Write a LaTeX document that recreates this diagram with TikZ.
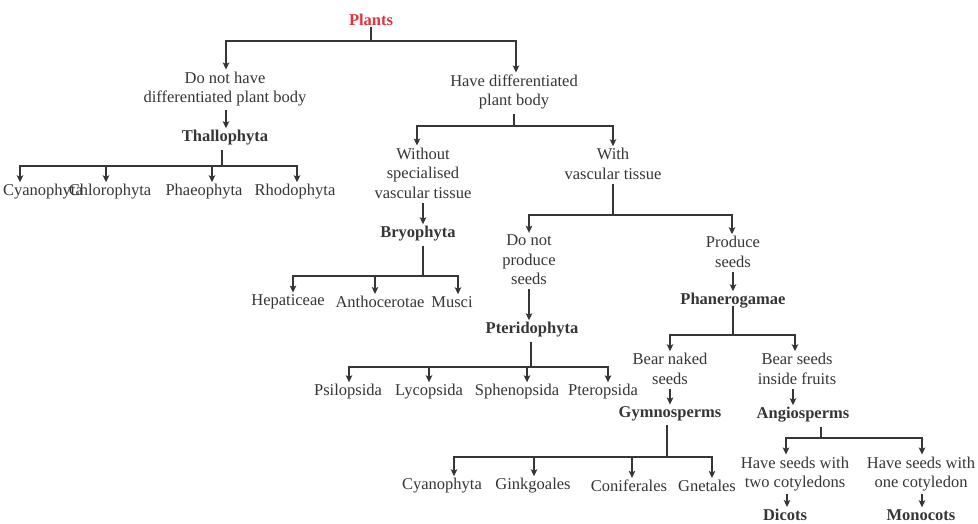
\documentclass[tikz,border=0pt]{standalone}
\usepackage{fontspec}
\setmainfont{Liberation Serif}
\usetikzlibrary{arrows.meta}
\definecolor{ink}{HTML}{363636}
\definecolor{plantred}{HTML}{E5323B}
\begin{document}
\begin{tikzpicture}[x=1pt,y=-1pt,
  txt/.style={inner sep=0pt, align=center, text=ink, yshift=-2pt, font=\fontsize{16.5}{19.5}\selectfont},
  bld/.style={txt, font=\fontsize{16.5}{19.5}\selectfont\bfseries},
  ln/.style={draw=ink, line width=1.2pt},
  arr/.style={ln, -{Stealth[length=7pt,width=6.5pt,inset=1.5pt]}, shorten >=2pt},
  stem/.style={ln, shorten <=4pt}
]
\useasboundingbox[fill=white] (0,0) rectangle (978,524);

% nodes
\node[bld, text=plantred] (P) at (371,18) {Plants};
\node[txt] (A) at (225,87) {Do not have\\differentiated plant body};
\node[bld] (T) at (225,136) {Thallophyta};
\node[txt] (t1) at (43,190) {Cyanophyta};
\node[txt] (t2) at (110,190) {Chlorophyta};
\node[txt] (t3) at (204,190) {Phaeophyta};
\node[txt] (t4) at (295,190) {Rhodophyta};

\node[txt] (B) at (514,90) {Have differentiated\\plant body};
\node[txt] (W) at (423,171) {Without\\specialised\\vascular tissue};
\node[txt] (V) at (613,162) {With\\vascular tissue};
\node[bld] (Bry) at (418,232) {Bryophyta};
\node[txt] (h1) at (288,300) {Hepaticeae};
\node[txt] (h2) at (380,300) {Anthocerotae};
\node[txt] (h3) at (452,300) {Musci};

\node[txt] (D) at (529,258) {Do not\\produce\\seeds};
\node[bld] (Pt) at (532,328) {Pteridophyta};
\node[txt] (p1) at (348,390) {Psilopsida};
\node[txt] (p2) at (429,390) {Lycopsida};
\node[txt] (p3) at (517,390) {Sphenopsida};
\node[txt] (p4) at (603,390) {Pteropsida};

\node[txt] (S) at (733,250) {Produce\\seeds};
\node[bld] (Ph) at (733,299) {Phanerogamae};
\node[txt] (N) at (670,367) {Bear naked\\seeds};
\node[txt] (F) at (797,367) {Bear seeds\\inside fruits};
\node[bld] (G) at (670,412) {Gymnosperms};
\node[txt] (g1) at (442,484) {Cyanophyta};
\node[txt] (g2) at (533,484) {Ginkgoales};
\node[txt] (g3) at (629,484) {Coniferales};
\node[txt] (g4) at (707,484) {Gnetales};

\node[bld] (An) at (803,413) {Angiosperms};
\node[txt] (Two) at (795,472) {Have seeds with\\two cotyledons};
\node[txt] (One) at (921,472) {Have seeds with\\one cotyledon};
\node[bld] (Di) at (785,513) {Dicots};
\node[bld] (Mo) at (921,513) {Monocots};

% junctions
\coordinate (jP) at (371,41);
\coordinate (jT) at (222,166);
\coordinate (jB) at (514,126);
\coordinate (jBry) at (423,276);
\coordinate (jV) at (613,215);
\coordinate (jPt) at (531,367);
\coordinate (jPh) at (733,335);
\coordinate (jG) at (667,457);
\coordinate (jAn) at (821,438);

% Plants
\draw[ln, shorten <=1pt] (P.south) -- (jP);
\draw[arr] (jP) -| (226,0 |- A.north);
\draw[arr] (jP) -| (516,0 |- B.north);

% Thallophyta branch
\draw[arr, shorten <=4pt] (226,0 |- A.south) -- (226,0 |- T.north);
\draw[stem] (222,0 |- T.south) -- (jT);
\draw[arr] (jT) -| (20,0 |- t1.north);
\draw[arr] (jT) -| (106,0 |- t2.north);
\draw[arr] (jT) -| (212,0 |- t3.north);
\draw[arr] (jT) -| (297,0 |- t4.north);

% Have differentiated
\draw[stem] (B.south) -- (jB);
\draw[arr] (jB) -| (417,0 |- W.north);
\draw[arr] (jB) -| (613,0 |- V.north);

% Bryophyta
\draw[arr, shorten <=4pt] (W.south) -- (423,0 |- Bry.north);
\draw[stem] (423,0 |- Bry.south) -- (jBry);
\draw[arr] (jBry) -| (293,0 |- h1.north);
\draw[arr] (jBry) -| (375,0 |- h2.north);
\draw[arr] (jBry) -| (458,0 |- h3.north);

% With vascular tissue
\draw[stem] (V.south) -- (jV);
\draw[arr] (jV) -| (529,0 |- D.north);
\draw[arr] (jV) -| (732,0 |- S.north);

% Pteridophyta
\draw[arr, shorten <=4pt] (D.south) -- (529,0 |- Pt.north);
\draw[stem] (531,0 |- Pt.south) -- (jPt);
\draw[arr] (jPt) -| (349,0 |- p1.north);
\draw[arr] (jPt) -| (429,0 |- p2.north);
\draw[arr] (jPt) -| (527,0 |- p3.north);
\draw[arr] (jPt) -| (608,0 |- p4.north);

% Phanerogamae
\draw[arr, shorten <=4pt] (S.south) -- (Ph.north);
\draw[ln, shorten <=-3pt] (Ph.south) -- (jPh);
\draw[arr] (jPh) -| (670,0 |- N.north);
\draw[arr] (jPh) -| (795,0 |- F.north);

% Gymnosperms
\draw[arr, shorten <=4pt] (N.south) -- (670,0 |- G.north);
\draw[stem] (667,0 |- G.south) -- (jG);
\draw[arr] (jG) -| (454,0 |- g1.north);
\draw[arr] (jG) -| (534,0 |- g2.north);
\draw[arr] (jG) -| (632,0 |- g3.north);
\draw[arr] (jG) -| (712,0 |- g4.north);

% Angiosperms
\draw[arr, shorten <=4pt] (793,0 |- F.south) -- (793,0 |- An.north);
\draw[stem] (821,0 |- An.south) -- (jAn);
\draw[arr] (jAn) -| (786,0 |- Two.north);
\draw[arr] (jAn) -| (922,0 |- One.north);
\draw[arr, shorten <=3pt] (787,0 |- Two.south) -- (787,0 |- Di.north);
\draw[arr, shorten <=3pt] (922,0 |- One.south) -- (922,0 |- Mo.north);
\end{tikzpicture}
\end{document}
